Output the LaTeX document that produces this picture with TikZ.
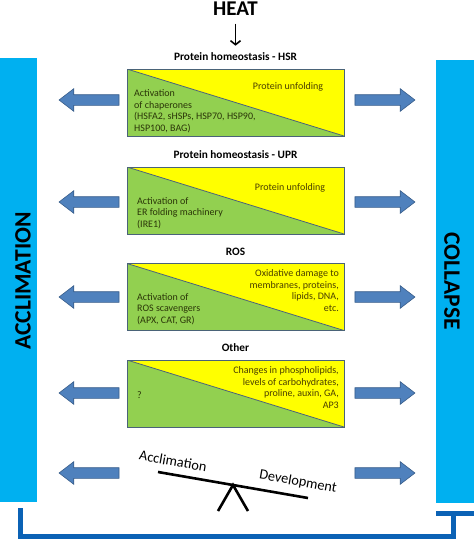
\documentclass[tikz,border=0pt]{standalone}
\usepackage{fontspec}
\setmainfont{Carlito}
\usetikzlibrary{arrows.meta,positioning,shapes.arrows}
\definecolor{barcyan}{HTML}{00B0F0}
\definecolor{bracketblue}{HTML}{0B62B5}
\definecolor{arrowfill}{HTML}{4F81BD}
\definecolor{arrowedge}{HTML}{385D8A}
\definecolor{leafgreen}{HTML}{92D050}
\definecolor{signyellow}{HTML}{FFFF00}
\definecolor{boxedge}{HTML}{4A6378}
\definecolor{greentext}{HTML}{2A3508}
\definecolor{yellowtext}{HTML}{4A3F00}
\tikzset{
  stagebox/.style={draw=boxedge, line width=0.8pt, minimum width=217pt,
    minimum height=67pt, inner sep=0pt,
    path picture={
      \fill[leafgreen] (path picture bounding box.north west) -- (path picture bounding box.south west)
        -- (path picture bounding box.south east) -- cycle;
      \fill[signyellow] (path picture bounding box.north west) -- (path picture bounding box.north east)
        -- (path picture bounding box.south east) -- cycle;
      \draw[boxedge, line width=0.8pt] (path picture bounding box.north west) -- (path picture bounding box.south east);
    }},
  stagetitle/.style={font=\fontsize{11.3}{13}\selectfont\bfseries, inner sep=0pt,
    text height=8pt, text depth=2.5pt},
  boxtext/.style={inner sep=0pt, font=\fontsize{10}{11.5}\selectfont},
  lefttext/.style={boxtext, anchor=west, align=left, text=greentext},
  righttext/.style={boxtext, anchor=east, align=right, text=yellowtext},
  blockarrow/.style={single arrow, draw=arrowedge, fill=arrowfill, line width=0.6pt,
    minimum height=60pt, minimum width=22pt, single arrow head extend=6pt,
    single arrow tip angle=75, inner xsep=0pt, inner ysep=5pt},
  sidebar/.style={fill=barcyan, inner sep=0pt},
  sidelabel/.style={font=\fontsize{23.5}{26}\selectfont\bfseries, inner sep=0pt},
  bracket/.style={draw=bracketblue, line width=5pt},
  heatarrow/.style={-{Straight Barb[length=4pt,width=10pt]}, line width=1.6pt},
  seesaw/.style={line width=2.6pt},
  tilted/.style={font=\fontsize{14.3}{16}\selectfont, inner sep=0pt}
}
\begin{document}
\begin{tikzpicture}[x=1pt, y=-1pt]
  \useasboundingbox (0,0) rectangle (474,541);
  % side bars
  \node[sidebar, minimum width=37pt, minimum height=444pt] (acclbar) at (18.5,280) {};
  \node[sidebar, minimum width=38pt, minimum height=443pt] (collbar) at (455,281.5) {};
  \node[sidelabel, rotate=90] (accllab) at (23,281) {ACCLIMATION};
  \node[sidelabel, rotate=-90] (colllab) at (452,281) {COLLAPSE};
  \draw[bracket] (20,508) -- (20,536) -- (453.5,536) -- (453.5,513);
  \draw[bracket] (436,513) -- (474,513);

  % the four stages
  \foreach \n/\y/\ttl in {hsr/102.5/{Protein homeostasis - HSR},
      upr/200.5/{Protein homeostasis - UPR}, ros/297/ROS, oth/393.5/Other} {
    \node[stagebox] (\n) at (235.5,\y) {};
    \node[stagetitle, above=5pt of \n] (t\n) {\ttl};
  }
  \node[font=\fontsize{21}{24}\selectfont\bfseries, inner sep=0pt] (heat) at (235.5,8.5) {HEAT};
  \draw[heatarrow, shorten <=8pt, shorten >=7pt] (heat) -- (thsr);

  \node[righttext, anchor=center] at (288,87) {Protein unfolding};
  \node[lefttext] at (134,111) {Activation\\of chaperones\\(HSFA2, sHSPs, HSP70, HSP90,\\HSP100, BAG)};
  \node[righttext, anchor=center] at (290,188) {Protein unfolding};
  \node[lefttext] at (137,213) {Activation of\\ER folding machinery\\(IRE1)};
  \node[righttext] at (339,290.5) {Oxidative damage to\\membranes, proteins,\\lipids, DNA,\\etc.};
  \node[lefttext] at (137,309) {Activation of\\ROS scavengers\\(APX, CAT, GR)};
  \node[righttext] at (339,387.5) {Changes in phospholipids,\\levels of carbohydrates,\\proline, auxin, GA,\\AP3};
  \node[lefttext] at (137,395) {?};

  % block arrows
  \foreach \y [count=\i] in {100,202,297,393,473} {
    \node[blockarrow, shape border rotate=180] (la\i) at (92.5,\y) {};
    \node[blockarrow] (ra\i) at (381.5,\y) {};
  }

  % seesaw
  \coordinate (pivot) at (233,485);
  \draw[seesaw] (158,472) -- (308,498);
  \draw[seesaw] (218,511) -- (pivot) -- (248,511);
  \node[tilted, rotate=-10] (accltxt) at (173,461) {Acclimation};
  \node[tilted, rotate=-10] (devtxt) at (298,482) {Development};
\end{tikzpicture}
\end{document}
